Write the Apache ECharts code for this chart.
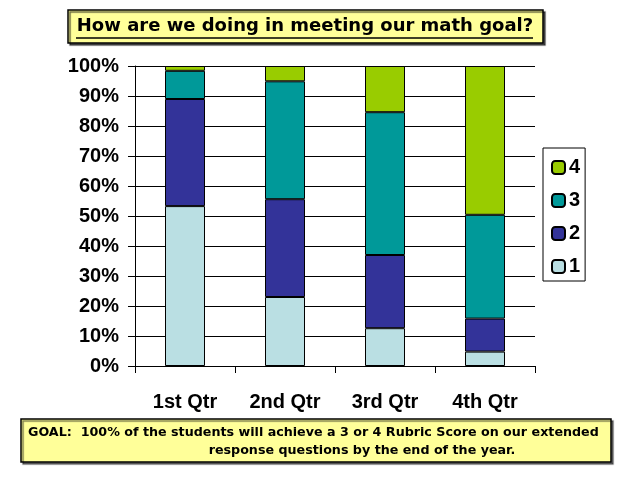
<!DOCTYPE html>
<html>
<head>
<meta charset="utf-8">
<script src="https://cdn.jsdelivr.net/npm/echarts@6/dist/echarts.min.js"></script>
<style>
html,body{margin:0;padding:0;background:#fff;}
#chart{width:638px;height:478px;}
</style>
</head>
<body>
<div id="chart"></div>
<script>
var categories = ['1st Qtr', '2nd Qtr', '3rd Qtr', '4th Qtr'];
var score1 = [53.3, 23.0, 12.6, 4.8];
var score2 = [35.7, 32.6, 24.4, 11.0];
var score3 = [9.4, 39.3, 47.6, 34.6];
var score4 = [1.6, 5.1, 15.4, 49.6];
var yTicks = [0, 10, 20, 30, 40, 50, 60, 70, 80, 90, 100];
var titleText = 'How are we doing in meeting our math goal?';
var goalLine1 = 'GOAL:  100% of the students will achieve a 3 or 4 Rubric Score on our extended';
var goalLine2 = 'response questions by the end of the year.';

var colors = {'1': '#BADFE3', '2': '#333399', '3': '#009999', '4': '#99CC00'};
var handFont = '"DejaVu Sans", sans-serif';
var sansFont = "'Liberation Sans', Arial, sans-serif";

function mk(name, data) {
  return {
    name: name, type: 'bar', stack: 'total', data: data, barWidth: '40%',
    itemStyle: {color: colors[name], borderColor: '#000', borderWidth: 1},
    emphasis: {disabled: true}
  };
}

var chart = echarts.init(document.getElementById('chart'), null, {renderer: 'canvas'});
chart.setOption({
  backgroundColor: '#fff',
  animation: false,
  grid: {left: 135, right: 103, top: 66, bottom: 112},
  legend: {
    data: ['4', '3', '2', '1'],
    orient: 'vertical',
    left: 543, top: 148,
    itemWidth: 13, itemHeight: 13, itemGap: 12,
    padding: [9, 5, 4, 8],
    borderColor: '#000', borderWidth: 1,
    textStyle: {fontFamily: sansFont, fontWeight: 'bold', fontSize: 20, color: '#000', lineHeight: 21, padding: [0,0,0,-1]}
  },
  xAxis: {
    type: 'category', data: categories,
    axisLine: {lineStyle: {color: '#000', width: 1}},
    axisTick: {show: true, length: 7, lineStyle: {color: '#000'}},
    axisLabel: {margin: 26, fontFamily: sansFont, fontWeight: 'bold', fontSize: 20, color: '#000'}
  },
  yAxis: {
    type: 'value', min: yTicks[0], max: yTicks[yTicks.length - 1], interval: 10,
    axisLine: {show: true, lineStyle: {color: '#000', width: 1}},
    axisTick: {show: true, length: 7, lineStyle: {color: '#000'}},
    splitLine: {show: true, lineStyle: {color: '#000', width: 1}},
    axisLabel: {margin: 16, formatter: '{value}%', fontFamily: sansFont, fontWeight: 'bold', fontSize: 20, color: '#000'}
  },
  series: [mk('1', score1), mk('2', score2), mk('3', score3), mk('4', score4)],
  graphic: [
    {type: 'rect', shape: {x: 68, y: 10, width: 475, height: 33},
     style: {fill: '#FFFF99', stroke: '#000', lineWidth: 1.5, shadowColor: 'rgba(0,0,0,0.6)', shadowOffsetX: 2, shadowOffsetY: 2, shadowBlur: 1}},
    {type: 'text', x: 305, y: 26,
     style: {text: titleText, fill: '#000', font: 'bold 18px ' + handFont, textAlign: 'center', textVerticalAlign: 'middle'}},
    {type: 'line', shape: {x1: 76, y1: 38, x2: 533, y2: 38}, style: {stroke: '#000', lineWidth: 1.5}},
    {type: 'rect', shape: {x: 21, y: 419, width: 590, height: 43},
     style: {fill: '#FFFF99', stroke: '#000', lineWidth: 1.5, shadowColor: 'rgba(0,0,0,0.5)', shadowOffsetX: 2, shadowOffsetY: 2, shadowBlur: 1}},
    {type: 'text', x: 28, y: 433,
     style: {text: goalLine1, fill: '#000', font: 'bold 12.7px ' + handFont, textAlign: 'left', textVerticalAlign: 'middle'}},
    {type: 'text', x: 362, y: 451,
     style: {text: goalLine2, fill: '#000', font: 'bold 12.7px ' + handFont, textAlign: 'center', textVerticalAlign: 'middle'}}
  ]
});
</script>
</body>
</html>
